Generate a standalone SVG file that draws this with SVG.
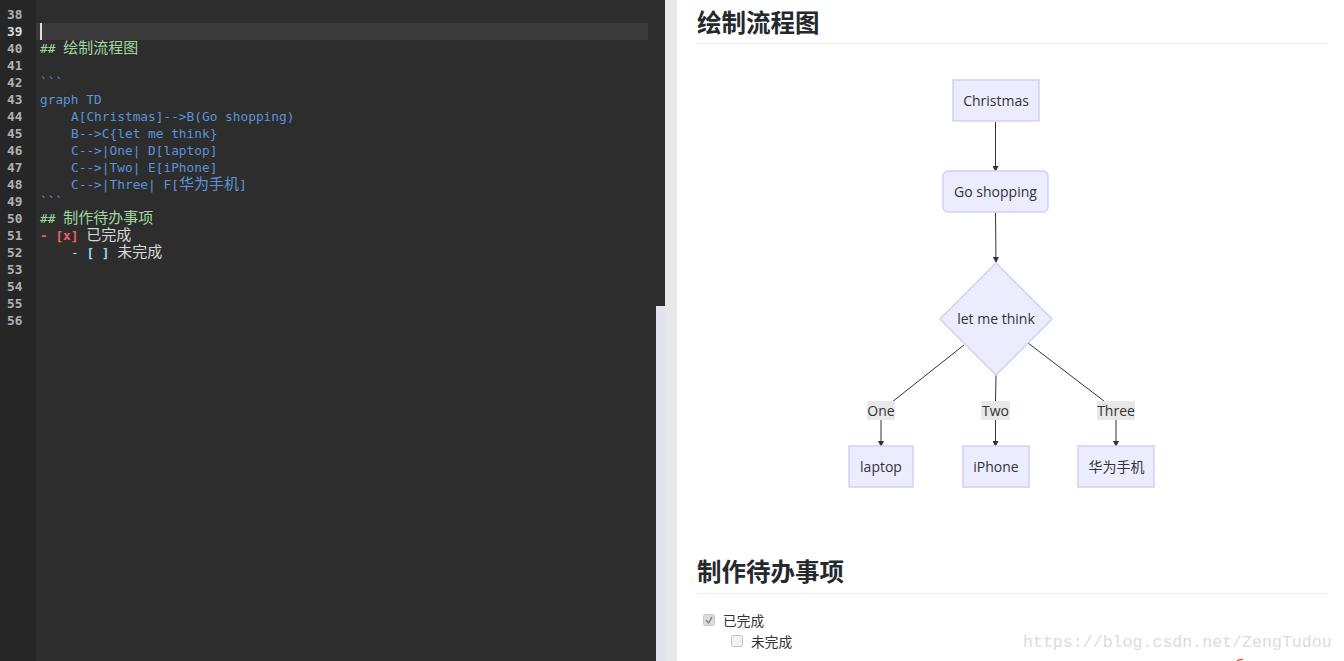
<svg xmlns="http://www.w3.org/2000/svg" width="1344" height="661" viewBox="0 0 1344 661">
<style>
.ln{font:12.8px "DejaVu Sans Mono","Liberation Mono",monospace;fill:#aeb2b2;font-weight:bold}
.c{font:12.8px "DejaVu Sans Mono","Liberation Mono","Noto Sans CJK SC",monospace;white-space:pre}
.z{font-size:15px;font-family:"Noto Sans CJK SC",sans-serif;font-weight:400}
.b{fill:#5c93d8}.g{fill:#a0d8a0}.w{fill:#d8d8d8}.r{fill:#f06060;font-weight:bold}
.nd{fill:#ececff;stroke:#d0d0fa;stroke-width:1.5}
.t{font:14px "Open Sans","Noto Sans CJK SC",sans-serif;fill:#333;text-anchor:middle}
.e{fill:#e8e8e8}
.h{font:bold 24.5px "Noto Sans CJK SC","Liberation Sans",sans-serif;fill:#24292e}
.l{font:13.7px "Noto Sans CJK SC",sans-serif;fill:#333}
.con{stroke:#333;stroke-width:1;fill:none;marker-end:url(#a)}
.con2{stroke:#333;stroke-width:1;fill:none}
</style>
<defs><marker id="a" markerWidth="6" markerHeight="6" refX="5" refY="3" orient="auto"><path d="M0 0L6 3L0 6z" fill="#333"/></marker></defs>
<rect width="1344" height="661" fill="#fff"/>
<rect width="665" height="661" fill="#2d2d2d"/>
<rect width="36" height="661" fill="#262626"/>
<rect x="36" y="23" width="612" height="17" fill="#3a3a3a"/>
<rect x="665" width="12" height="661" fill="#e8e8e8"/>
<rect x="656" y="306" width="9" height="355" fill="#e0e4f2"/>
<rect x="40" y="23" width="2" height="17" fill="#ddd"/>
<g class="ln">
<text x="7" y="19">38</text><text x="7" y="36" style="fill:#ddd">39</text><text x="7" y="53">40</text><text x="7" y="70">41</text><text x="7" y="87">42</text><text x="7" y="104">43</text><text x="7" y="121">44</text><text x="7" y="138">45</text><text x="7" y="155">46</text><text x="7" y="172">47</text><text x="7" y="189">48</text><text x="7" y="206">49</text><text x="7" y="223">50</text><text x="7" y="240">51</text><text x="7" y="257">52</text><text x="7" y="274">53</text><text x="7" y="291">54</text><text x="7" y="308">55</text><text x="7" y="325">56</text>
</g>
<g class="c">
<text x="40" y="53" class="g">## <tspan class="z">绘制流程图</tspan></text>
<text x="40" y="87" class="b">```</text>
<text x="40" y="104" class="b">graph TD</text>
<text x="71" y="121" class="b">A[Christmas]--&gt;B(Go shopping)</text>
<text x="71" y="138" class="b">B--&gt;C{let me think}</text>
<text x="71" y="155" class="b">C--&gt;|One| D[laptop]</text>
<text x="71" y="172" class="b">C--&gt;|Two| E[iPhone]</text>
<text x="71" y="189" class="b">C--&gt;|Three| F[<tspan class="z">华为手机</tspan>]</text>
<text x="40" y="206" class="b">```</text>
<text x="40" y="223" class="g">## <tspan class="z">制作待办事项</tspan></text>
<text x="40" y="240" class="w"><tspan class="r">- [x]</tspan> <tspan class="z">已完成</tspan></text>
<text x="71" y="257" class="w">- <tspan fill="#9fd4e0" font-weight="bold">[ ]</tspan> <tspan class="z">未完成</tspan></text>
</g>
<text x="697" y="32" class="h">绘制流程图</text>
<rect x="697" y="43" width="630" height="1" fill="#eaecef"/>
<text x="697" y="581" class="h">制作待办事项</text>
<rect x="697" y="593" width="630" height="1" fill="#eaecef"/>
<g id="connectors">
<path class="con" d="M995.5 122V171"/>
<path class="con" d="M995.5 213L996 262"/>
<path class="con2" d="M964 345L892 402"/>
<path class="con2" d="M996 375L995.5 401"/>
<path class="con2" d="M1028 343L1104 401"/>
<path class="con" d="M881 420V446"/>
<path class="con" d="M995.5 420V446"/>
<path class="con" d="M1116 420V446"/>
</g>
<g id="A"><rect class="nd" x="953" y="80" width="86" height="41"/><text class="t" x="996" y="106">Christmas</text></g>
<g id="B"><rect class="nd" x="943" y="171" width="105" height="41" rx="5"/><text class="t" x="995.5" y="197">Go shopping</text></g>
<g id="C"><polygon class="nd" points="996,263 1052,319 996,375 940,319"/><text class="t" x="996" y="324">let me think</text></g>
<g id="D"><rect class="nd" x="849" y="446" width="64" height="41"/><text class="t" x="881" y="472">laptop</text></g>
<g id="E"><rect class="nd" x="963" y="446" width="66" height="41"/><text class="t" x="996" y="472">iPhone</text></g>
<g id="F"><rect class="nd" x="1078" y="446" width="76" height="41"/><text class="t" x="1116.500" y="472">华为手机</text></g>
<g id="lbl1"><rect class="e" x="867" y="401" width="28" height="19"/><text class="t" x="881" y="416">One</text></g>
<g id="lbl2"><rect class="e" x="981" y="401" width="29" height="19"/><text class="t" x="995.5" y="416">Two</text></g>
<g id="lbl3"><rect class="e" x="1097" y="401" width="38" height="19"/><text class="t" x="1116" y="416">Three</text></g>
<g id="todo">
<rect x="703.500" y="614.500" width="11" height="11" rx="2" fill="#dcdcdc" stroke="#c4c4c4"/>
<path d="M706 620l2.500 3 3.500-6" fill="none" stroke="#888" stroke-width="1.500"/>
<text x="723" y="626" class="l">已完成</text>
<rect x="731.500" y="635.500" width="11" height="11" rx="2" fill="#f2f2f2" stroke="#c4c4c4"/>
<text x="751" y="647" class="l">未完成</text>
</g>
<text x="1023" y="647" style="font:16.6px 'Liberation Mono',monospace" fill="#dcdcd8">https://blog.csdn.net/ZengTudou</text>
<path d="M1237 661q2-2 6-1.500" stroke="#f05a28" stroke-width="1.500" fill="none"/>
</svg>
